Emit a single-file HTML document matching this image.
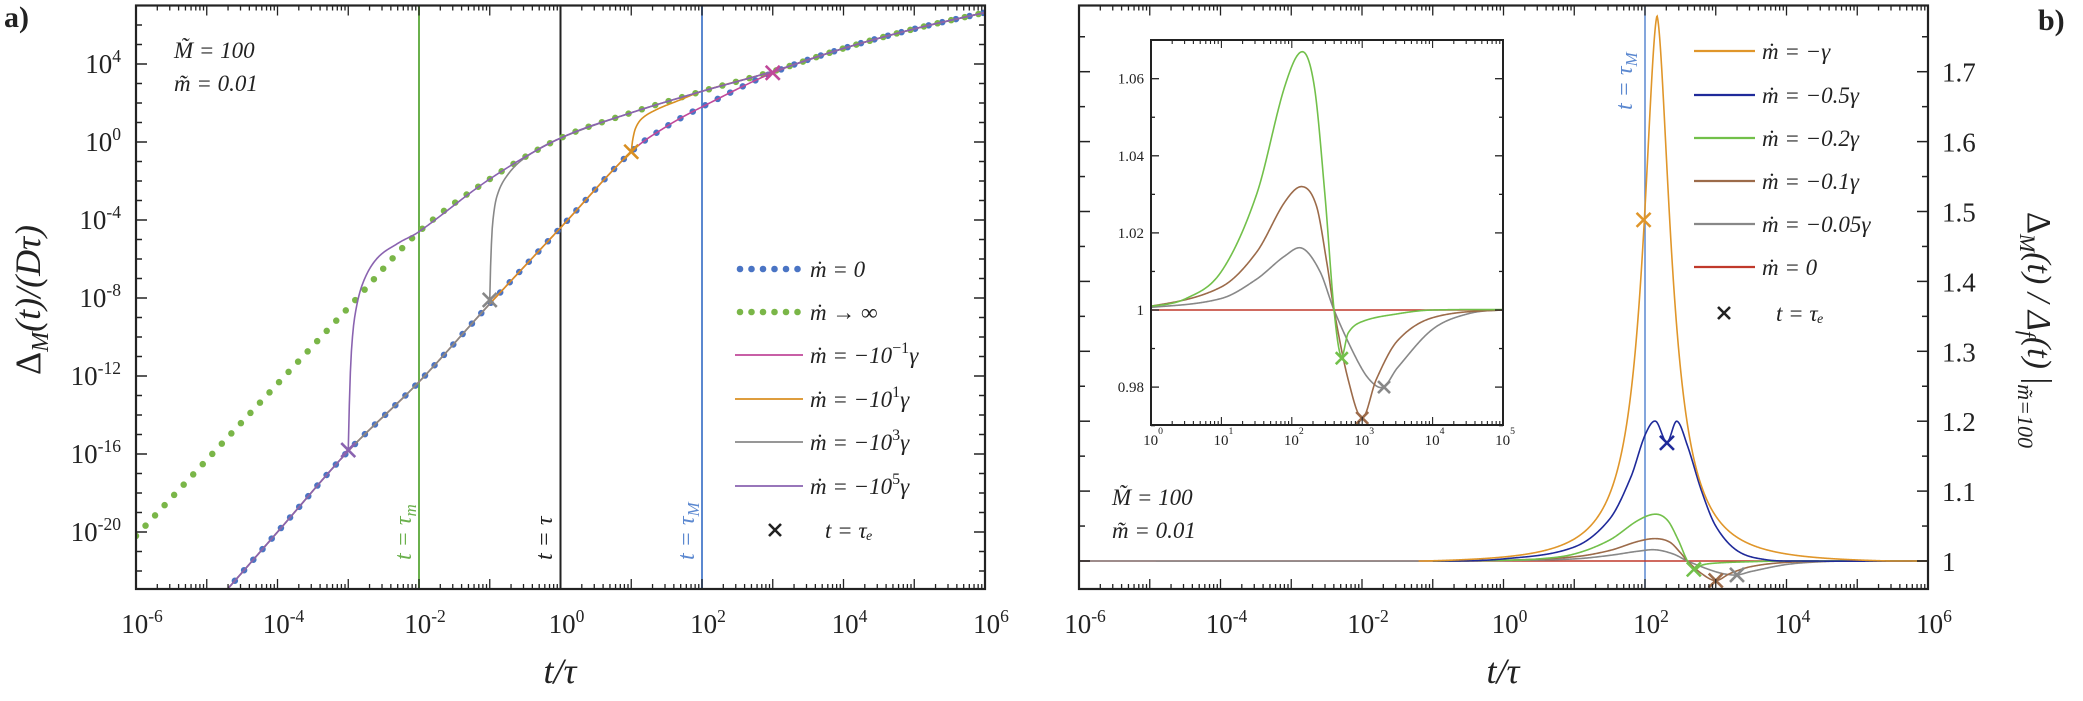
<!DOCTYPE html>
<html><head><meta charset="utf-8">
<style>
html,body{margin:0;padding:0;background:#fff;}
svg{display:block;}
text{font-family:"Liberation Serif","DejaVu Serif",serif;fill:#222;}
.it{font-style:italic;}
</style></head>
<body>
<svg id="s" width="2083" height="701" viewBox="0 0 2083 701" xmlns="http://www.w3.org/2000/svg">
<defs>
<clipPath id="cl"><rect x="136" y="5.5" width="849" height="583.5"/></clipPath>
<clipPath id="cr"><rect x="1079" y="5.5" width="849" height="583.5"/></clipPath>
<clipPath id="ci"><rect x="1151" y="40" width="352" height="385"/></clipPath>
</defs>
<g id="g"></g>
</svg>
<script>
var NS="http://www.w3.org/2000/svg",G=document.getElementById("g");
function el(t,a,p,txt){var e=document.createElementNS(NS,t);for(var k in a)e.setAttribute(k,a[k]);if(txt!=null)e.textContent=txt;(p||G).appendChild(e);return e;}
function lerp(k,x){if(x<=k[0][0])return k[0][1];for(var i=1;i<k.length;i++){if(x<=k[i][0]){var a=k[i-1],b=k[i];var t=(x-a[0])/(b[0]-a[0]);
var p0=k[Math.max(i-2,0)],p3=k[Math.min(i+1,k.length-1)];
var m1=(b[1]-p0[1])/(b[0]-p0[0])*(b[0]-a[0]),m2=(p3[1]-a[1])/(p3[0]-a[0])*(b[0]-a[0]);
var t2=t*t,t3=t2*t;return (2*t3-3*t2+1)*a[1]+(t3-2*t2+t)*m1+(-2*t3+3*t2)*b[1]+(t3-t2)*m2;}}return k[k.length-1][1];}
function path(f,x0,x1,X,Y,n){var d="";n=n||600;for(var i=0;i<=n;i++){var lt=x0+(x1-x0)*i/n;d+=(i?"L":"M")+X(lt).toFixed(2)+","+Y(f(lt)).toFixed(2);}return d;}
var LX=function(l){return 136+(l+6)*70.75},LY=function(v){return 64-(v-4)*19.5};
var RX=function(l){return 1079+(l+6)*70.75},RY=function(v){return 561-(v-1)*699};
var IX=function(l){return 1151+l*70.4},IY=function(v){return 78.7-(v-1.06)*3855};

var blue=[[-5,-24.1],[-4.7,-22.9],[-4,-20],[-3,-15.85],[-2,-12.3],[-1,-8.3],[0,-4.4],[1,-0.5],[1.5,0.8],[2,1.8],[3,3.55],[4,4.8],[5,5.8],[6,6.64]];
var green=[[-6,-20.2],[-5,-16.3],[-4,-12.4],[-3,-8.5],[-2,-4.6],[-1,-1.9],[0,0.2],[1,1.5],[2,2.6],[3,3.62],[4,4.8],[5,5.8],[6,6.64]];
function bf(l){return lerp(blue,l)} function gf(l){return lerp(green,l)}
var lc=el("g",{"clip-path":"url(#cl)"});
el("line",{x1:LX(-2),y1:5,x2:LX(-2),y2:589,stroke:"#6ab04c","stroke-width":2},lc);
el("line",{x1:LX(0),y1:5,x2:LX(0),y2:589,stroke:"#222","stroke-width":2},lc);
el("line",{x1:LX(2),y1:5,x2:LX(2),y2:589,stroke:"#5b88d0","stroke-width":2},lc);
el("path",{d:path(bf,-5,6,LX,LY,800),fill:"none",stroke:"#4a74c4","stroke-width":6.5,"stroke-linecap":"round","stroke-dasharray":"0 14"},lc);
el("path",{d:path(gf,-6,6,LX,LY,800),fill:"none",stroke:"#7ab648","stroke-width":6.5,"stroke-linecap":"round","stroke-dasharray":"0 14"},lc);
el("path",{d:path(bf,-5,6,LX,LY),fill:"none",stroke:"#c0489a","stroke-width":1.6},lc);
var pur=[[-3,-15.8],[-2.985,-13.5],[-2.96,-11],[-2.91,-9],[-2.8,-7.3],[-2.6,-6],[-2.3,-5.2],[-2,-4.6],[-1,-1.9],[0,0.2],[1,1.5],[2,2.6],[3,3.62],[4,4.8],[5,5.8],[6,6.64]];
var gry=[[-1,-8.1],[-0.985,-6],[-0.96,-4.2],[-0.9,-2.8],[-0.75,-1.7],[-0.5,-0.8],[0,0.2],[1,1.5],[2,2.6],[3,3.62],[4,4.8],[5,5.8],[6,6.64]];
var org=[[1,-0.5],[1.02,0.1],[1.06,0.7],[1.15,1.2],[1.35,1.65],[1.65,2.1],[2,2.6],[3,3.62],[4,4.8],[5,5.8],[6,6.64]];
el("path",{d:path(bf,-5,1,LX,LY)+path(function(l){return lerp(org,l)},1,6,LX,LY).replace("M","L"),fill:"none",stroke:"#d98f22","stroke-width":1.6},lc);
el("path",{d:path(bf,-5,-1,LX,LY)+path(function(l){return lerp(gry,l)},-1,6,LX,LY).replace("M","L"),fill:"none",stroke:"#888","stroke-width":1.6},lc);
el("path",{d:path(bf,-5,-3,LX,LY)+path(function(l){return lerp(pur,l)},-3,6,LX,LY).replace("M","L"),fill:"none",stroke:"#8a63b0","stroke-width":1.6},lc);
function X(x,y,c,s){s=s||7;el("path",{d:"M"+(x-s)+","+(y-s)+"L"+(x+s)+","+(y+s)+"M"+(x-s)+","+(y+s)+"L"+(x+s)+","+(y-s),stroke:c,"stroke-width":2.6,fill:"none"});}
X(LX(-3),LY(-15.8),"#8a63b0");X(LX(-1),LY(-8.1),"#888");X(LX(1),LY(-0.5),"#d98f22");X(LX(3),LY(3.55),"#c0489a");
function rlab(x,y,c,main,sub,rot){var t=el("text",{x:0,y:0,transform:"translate("+x+","+y+") rotate("+rot+")","font-size":24,"class":"it",style:"fill:"+c});
 el("tspan",{},t,main);if(sub){el("tspan",{dy:5,"font-size":17},t,sub);}return t;}
rlab(411,560,"#6ab04c","t = τ","m",-90);rlab(552,560,"#222","t = τ",null,-90);rlab(694,560,"#5b88d0","t = τ","M",-90);
el("rect",{x:136,y:5.5,width:849,height:583.5,fill:"none",stroke:"#222","stroke-width":2.2});
function logTicksX(X0,y0,y1,dec0,dec1){for(var d=dec0;d<dec1;d++){for(var m=1;m<10;m++){var x=X0(d+Math.log10(m));var L=m==1?10:5;el("line",{x1:x,y1:y1,x2:x,y2:y1-L,stroke:"#222","stroke-width":1.3});el("line",{x1:x,y1:y0,x2:x,y2:y0+L,stroke:"#222","stroke-width":1.3});}}}
logTicksX(LX,5.5,589,-6,6);
for(var v=-22;v<=7;v++){var y=LY(v);var L=(v%4==0)?11:6;el("line",{x1:136,y1:y,x2:136+L,y2:y,stroke:"#222","stroke-width":1.5});el("line",{x1:985,y1:y,x2:985-L,y2:y,stroke:"#222","stroke-width":1.5});}
function pow(x,y,e,anchor,fs){var t=el("text",{x:x,y:y,"font-size":fs||27,"text-anchor":anchor||"middle"});el("tspan",{},t,"10");el("tspan",{dy:-11,"font-size":(fs||27)*0.65},t,e);return t;}
for(var v=-20;v<=4;v+=4)pow(121,LY(v)+9,String(v),"end");
for(var d=-6;d<=6;d+=2){pow(LX(d)+6,633,String(d),"middle");}
var t=el("text",{x:0,y:0,transform:"translate(40,300) rotate(-90)","font-size":36,"text-anchor":"middle","class":"it"});el("tspan",{"font-style":"normal"},t,"Δ");el("tspan",{dy:8,"font-size":24},t,"M");el("tspan",{dy:-8},t,"(t)/(Dτ)");
el("text",{x:560,y:683,"font-size":36,"text-anchor":"middle","class":"it"},null,"t/τ");
el("text",{x:4,y:27,"font-size":30,"font-weight":"bold"},null,"a)");
el("text",{x:174,y:58,"font-size":23,"class":"it"},null,"M̃ = 100");
el("text",{x:174,y:91,"font-size":23,"class":"it"},null,"m̃ = 0.01");
var lgY=[269,312,355,399,442,486,530];
var lgC=["#4a74c4","#7ab648","#c0489a","#d98f22","#888","#8a63b0"];
var lgT=[["ṁ = 0",""],["ṁ → ∞",""],["ṁ = −10","−1","γ"],["ṁ = −10","1","γ"],["ṁ = −10","3","γ"],["ṁ = −10","5","γ"]];
for(var i=0;i<6;i++){var y=lgY[i];
 if(i<2){for(var k=0;k<6;k++)el("circle",{cx:740+k*11.5,cy:y,r:3.3,fill:lgC[i]});}
 else el("line",{x1:735,y1:y,x2:803,y2:y,stroke:lgC[i],"stroke-width":1.8});
 var tt=el("text",{x:810,y:y+8,"font-size":23,"class":"it"});el("tspan",{},tt,lgT[i][0]);if(lgT[i][1]){el("tspan",{dy:-10,"font-size":16,"font-style":"normal"},tt,lgT[i][1]);el("tspan",{dy:10},tt,lgT[i][2]);}}
X(775,530,"#222",6);el("text",{x:825,y:538,"font-size":23,"class":"it"},null,"t = τₑ");

var rc=el("g",{"clip-path":"url(#cr)"});
el("line",{x1:RX(2),y1:5,x2:RX(2),y2:589,stroke:"#5b88d0","stroke-width":1.5},rc);
var gK=[[-6,1],[-1,1.0],[0,1.001],[0.5,1.003],[1,1.01],[1.5,1.03],[1.9,1.058],[2.15,1.067],[2.32,1.058],[2.47,1.03],[2.6,1.0],[2.7,0.988],[2.8,0.994],[3.0,0.997],[3.5,0.999],[4,1],[6,1]];
var brK=[[-6,1],[-1,1],[0,1.001],[1,1.006],[1.5,1.015],[1.9,1.028],[2.15,1.032],[2.35,1.027],[2.5,1.012],[2.6,1.0],[2.8,0.982],[3.0,0.972],[3.2,0.982],[3.5,0.992],[4,0.998],[5,1],[6,1]];
var gyK=[[-6,1],[-1,1],[0,1.0007],[1,1.003],[1.5,1.008],[1.9,1.014],[2.15,1.016],[2.4,1.01],[2.6,1.0],[2.9,0.988],[3.1,0.982],[3.3,0.98],[3.5,0.985],[4,0.995],[4.5,0.999],[5,1],[6,1]];
var blK=[[-6,1],[-1,1],[0,1.003],[1,1.02],[1.5,1.06],[1.8,1.12],[2.0,1.18],[2.15,1.2],[2.31,1.17],[2.45,1.2],[2.6,1.165],[2.8,1.1],[3.0,1.05],[3.3,1.015],[3.7,1.002],[4.2,1],[6,1]];
function of(l){var d=Math.abs(l-2.17);var f=Math.max(0,1-d/3.3);return 1+0.78/(1+Math.pow(d/0.26,1.8))*f;}
el("line",{x1:1079,y1:RY(1),x2:1928,y2:RY(1),stroke:"#c0392b","stroke-width":1.6},rc);
el("path",{d:path(function(l){return lerp(gyK,l)},-6,6,RX,RY,900),fill:"none",stroke:"#888","stroke-width":1.6},rc);
el("path",{d:path(function(l){return lerp(brK,l)},-1,6,RX,RY,900),fill:"none",stroke:"#9c6b4a","stroke-width":1.6},rc);
el("path",{d:path(function(l){return lerp(gK,l)},-1,6,RX,RY,900),fill:"none",stroke:"#72c04a","stroke-width":1.6},rc);
el("path",{d:path(function(l){return lerp(blK,l)},-1,6,RX,RY,900),fill:"none",stroke:"#1f2a9a","stroke-width":1.6},rc);
el("path",{d:path(of,-1.2,6,RX,RY,1200),fill:"none",stroke:"#e0962a","stroke-width":1.6},rc);
X(RX(1.98),RY(1.488),"#e0962a");X(RX(2.31),RY(1.169),"#1f2a9a");X(RX(2.69),RY(0.988),"#72c04a");X(RX(3.0),RY(0.972),"#9c6b4a");X(RX(3.3),RY(0.98),"#888");
rlab(1632,110,"#5b88d0","t = τ","M",-90);
el("rect",{x:1079,y:5.5,width:849,height:583.5,fill:"none",stroke:"#222","stroke-width":2.2});
logTicksX(RX,5.5,589,-6,6);
for(var v=0.95;v<=1.8;v+=0.05){var y=RY(v);if(y<6||y>588)continue;var maj=Math.abs(Math.round(v*10)-v*10)<1e-6;var L=maj?11:6;el("line",{x1:1079,y1:y,x2:1079+L,y2:y,stroke:"#222","stroke-width":1.5});el("line",{x1:1928,y1:y,x2:1928-L,y2:y,stroke:"#222","stroke-width":1.5});}
for(var k=0;k<=7;k++){var v=1+k/10;el("text",{x:1942,y:RY(v)+10,"font-size":27},null,k==0?"1":v.toFixed(1));}
for(var d=-6;d<=6;d+=2){pow(RX(d)+6,633,String(d),"middle");}
el("text",{x:1503,y:683,"font-size":36,"text-anchor":"middle","class":"it"},null,"t/τ");
el("text",{x:2038,y:30,"font-size":30,"font-weight":"bold"},null,"b)");
var t2=el("text",{x:0,y:0,transform:"translate(2028,330) rotate(90)","font-size":34,"text-anchor":"middle","class":"it"});
el("tspan",{"font-style":"normal"},t2,"Δ");el("tspan",{dy:8,"font-size":22},t2,"M");el("tspan",{dy:-8},t2,"(t) / Δ");el("tspan",{dy:8,"font-size":22},t2,"f");el("tspan",{dy:-8},t2,"(t)");el("tspan",{"font-style":"normal"},t2," |");el("tspan",{dy:10,"font-size":22},t2,"m̃=100");
el("text",{x:1112,y:505,"font-size":23,"class":"it"},null,"M̃ = 100");
el("text",{x:1112,y:538,"font-size":23,"class":"it"},null,"m̃ = 0.01");
var rY=[51,95,138,181,224,267,313],rC=["#e0962a","#1f2a9a","#72c04a","#9c6b4a","#888","#c0392b"],rT=["ṁ = −γ","ṁ = −0.5γ","ṁ = −0.2γ","ṁ = −0.1γ","ṁ = −0.05γ","ṁ = 0"];
for(var i=0;i<6;i++){el("line",{x1:1694,y1:rY[i],x2:1755,y2:rY[i],stroke:rC[i],"stroke-width":2.2});el("text",{x:1762,y:rY[i]+8,"font-size":23,"class":"it"},null,rT[i]);}
X(1724,313,"#222",6);el("text",{x:1776,y:321,"font-size":23,"class":"it"},null,"t = τₑ");

el("rect",{x:1151,y:40,width:352,height:385,fill:"#fff"});
var ic=el("g",{"clip-path":"url(#ci)"});
el("line",{x1:1151,y1:IY(1),x2:1503,y2:IY(1),stroke:"#c0392b","stroke-width":1.6},ic);
el("path",{d:path(function(l){return lerp(gyK,l)},0,5,IX,IY,600),fill:"none",stroke:"#888","stroke-width":1.6},ic);
el("path",{d:path(function(l){return lerp(brK,l)},0,5,IX,IY,600),fill:"none",stroke:"#9c6b4a","stroke-width":1.6},ic);
el("path",{d:path(function(l){return lerp(gK,l)},0,5,IX,IY,600),fill:"none",stroke:"#72c04a","stroke-width":1.6},ic);
X(IX(2.71),IY(0.9875),"#72c04a",6);X(IX(3.0),IY(0.972),"#9c6b4a",6);X(IX(3.31),IY(0.98),"#888",6);
el("rect",{x:1151,y:40,width:352,height:385,fill:"none",stroke:"#222","stroke-width":2});
for(var d=0;d<5;d++)for(var m=1;m<10;m++){var x=IX(d+Math.log10(m));var L=m==1?8:4;el("line",{x1:x,y1:425,x2:x,y2:425-L,stroke:"#222","stroke-width":1.1});el("line",{x1:x,y1:40,x2:x,y2:40+L,stroke:"#222","stroke-width":1.1});}
for(var v=0.97;v<=1.0701;v+=0.01){var y=IY(v);var maj=Math.round(v*100)%2==0;var L=maj?8:4;el("line",{x1:1151,y1:y,x2:1151+L,y2:y,stroke:"#222","stroke-width":1.3});el("line",{x1:1503,y1:y,x2:1503-L,y2:y,stroke:"#222","stroke-width":1.3});}
var iv=[0.98,1,1.02,1.04,1.06];for(var i=0;i<5;i++)el("text",{x:1144,y:IY(iv[i])+5,"font-size":15,"text-anchor":"end"},null,iv[i]==1?"1":iv[i].toFixed(2));
for(var d=0;d<=5;d++)pow(IX(d)+2,445,String(d),"middle",15);
</script>
</body></html>
